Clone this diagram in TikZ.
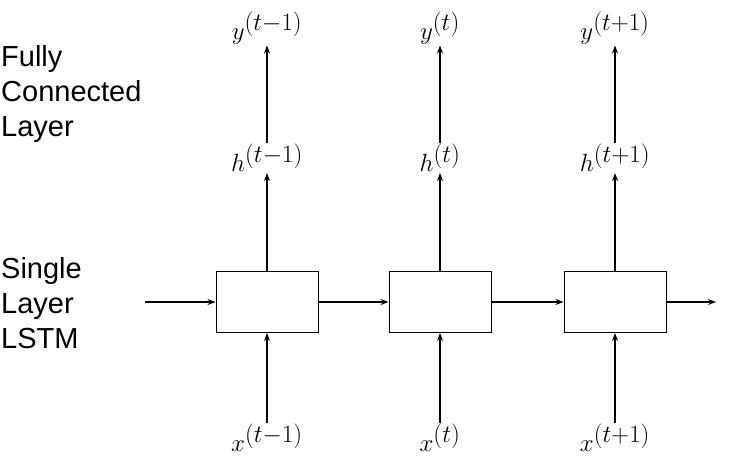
\documentclass[tikz,border=0pt]{standalone}
\usepackage{fontspec}
\setmainfont{Liberation Sans}
\usetikzlibrary{arrows.meta}
\begin{document}
\begin{tikzpicture}[x=1pt,y=-1pt,
  cell/.style={draw,line width=1pt,minimum width=102pt,minimum height=61pt,inner sep=0pt},
  lab/.style={font=\fontsize{33}{36}\selectfont,inner sep=1pt},
  side/.style={font=\fontsize{29}{35}\selectfont,align=left,anchor=west,inner sep=0pt},
  arr/.style={-{Stealth[length=8pt,width=6pt]},line width=1.2pt}]
\useasboundingbox (0,0) rectangle (740,463);
\node[side] (fc) at (1,94) {Fully\\Connected\\Layer};
\node[side] (sl) at (1,303) {Single\\Layer\\LSTM};
\coordinate (in) at (145,302);
\coordinate (out) at (716,302);
\foreach \i/\cx/\s in {1/267/t-1,2/440/t,3/615/t+1}{
  \node[cell] (c\i) at (\cx,302) {};
  \node[lab] (x\i) at (\cx,438) {$x^{(\s)}$};
  \node[lab] (h\i) at (\cx,158) {$h^{(\s)}$};
  \node[lab] (y\i) at (\cx,28) {$y^{(\s)}$};
  \draw[arr] (x\i) -- (c\i);
  \draw[arr] (c\i) -- (h\i);
  \draw[arr] (h\i) -- (y\i);
}
\draw[arr] (in) -- (c1);
\draw[arr] (c1) -- (c2);
\draw[arr] (c2) -- (c3);
\draw[arr] (c3) -- (out);
\end{tikzpicture}
\end{document}
